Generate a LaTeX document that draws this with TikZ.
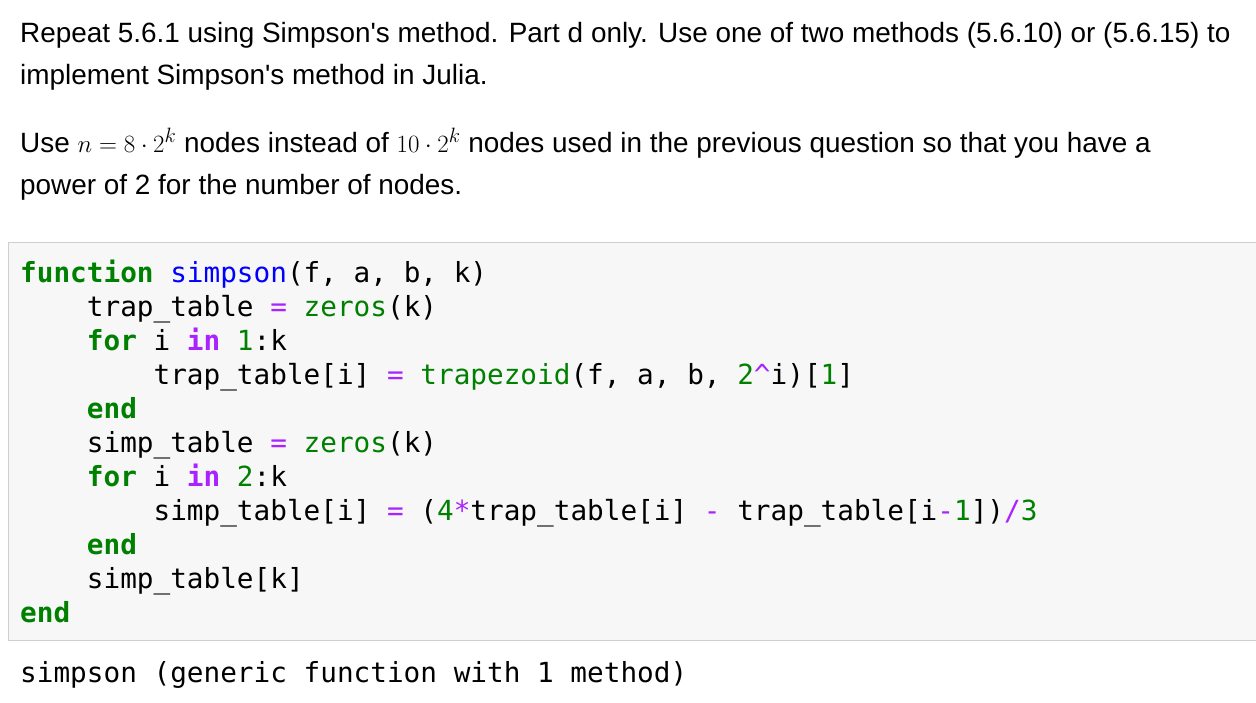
\documentclass[tikz,border=0pt]{standalone}
\usepackage{fontspec}
\setmainfont{Liberation Sans}
\setmonofont{DejaVu Sans Mono}
\definecolor{kw}{HTML}{008000}
\definecolor{fn}{HTML}{0000FF}
\definecolor{op}{HTML}{AA22FF}
\newcommand{\K}[1]{\textcolor{kw}{\bfseries #1}}
\newcommand{\G}[1]{\textcolor{kw}{#1}}
\newcommand{\OP}[1]{\textcolor{op}{#1}}
\newcommand{\U}{\_}
\newcommand{\Q}{\textquotesingle}
\begin{document}
\begin{tikzpicture}[x=1pt,y=-1pt,
  txt/.style={anchor=base west,inner sep=0pt,font=\fontsize{27.9}{30}\selectfont},
  code/.style={anchor=base west,inner sep=0pt,font=\ttfamily\fontsize{27.7}{30}\selectfont}]
\useasboundingbox (0,0) rectangle (1256,702);
\fill[white] (0,0) rectangle (1256,702);
\node[txt] (t1) at (20,42) {Repeat 5.6.1 using Simpson\Q s method. Part d only. Use one of two methods (5.6.10) or (5.6.15) to};
\node[txt] (t2) at (20,84) {implement Simpson\Q s method in Julia.};
\node[txt] (t3) at (20,152) {Use $n = 8\cdot 2^k$ nodes instead of $10\cdot 2^k$ nodes used in the previous question so that you have a};
\node[txt] (t4) at (20,194) {power of 2 for the number of nodes.};
\draw[draw=black!19,fill=black!3] (8,242) rectangle (1262,640);
\node[code] (c1) at (20,282) {\K{function} \textcolor{fn}{simpson}(f, a, b, k)};
\node[code] (c2) at (20,316) {\ \ \ \ trap\U table \OP{=} \G{zeros}(k)};
\node[code] (c3) at (20,350) {\ \ \ \ \K{for} i \OP{\bfseries in} \G{1}:k};
\node[code] (c4) at (20,384) {\ \ \ \ \ \ \ \ trap\U table[i] \OP{=} \G{trapezoid}(f, a, b, \G{2}\OP{\textasciicircum}i)[\G{1}]};
\node[code] (c5) at (20,418) {\ \ \ \ \K{end}};
\node[code] (c6) at (20,452) {\ \ \ \ simp\U table \OP{=} \G{zeros}(k)};
\node[code] (c7) at (20,486) {\ \ \ \ \K{for} i \OP{\bfseries in} \G{2}:k};
\node[code] (c8) at (20,520) {\ \ \ \ \ \ \ \ simp\U table[i] \OP{=} (\G{4}\OP{*}trap\U table[i] \OP{-} trap\U table[i\OP{-}\G{1}])\OP{/}\G{3}};
\node[code] (c9) at (20,554) {\ \ \ \ \K{end}};
\node[code] (c10) at (20,588) {\ \ \ \ simp\U table[k]};
\node[code] (c11) at (20,622) {\K{end}};
\node[code] (o1) at (20,682) {simpson (generic function with 1 method)};
\end{tikzpicture}
\end{document}
